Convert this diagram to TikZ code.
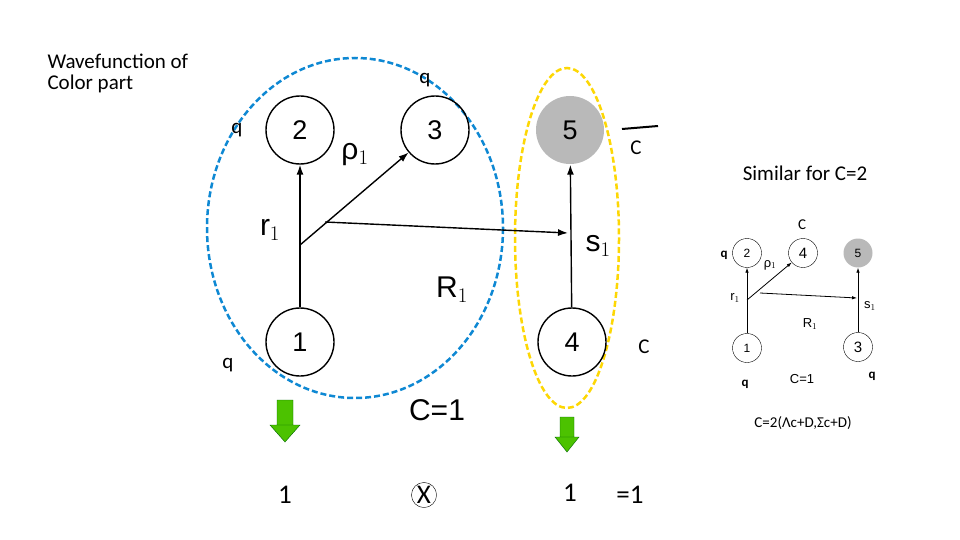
\documentclass[tikz,border=0pt]{standalone}
\usepackage{fontspec}
\setmainfont{Carlito}
\newfontfamily\arl{Liberation Sans}
\usetikzlibrary{arrows.meta}
\begin{document}
\begin{tikzpicture}[x=1pt,y=-1pt,
 bc/.style={circle,draw,line width=1.4pt,minimum size=68pt,inner sep=0,font=\arl\fontsize{27}{27}\selectfont},
 sc/.style={circle,draw,minimum size=29pt,inner sep=0,font=\arl\fontsize{12}{12}\selectfont},
 lab/.style={font=\arl\fontsize{30}{30}\selectfont},
 slab/.style={font=\arl\fontsize{13}{13}\selectfont},
 txt/.style={font=\fontsize{21}{21}\selectfont},
 ar/.style={-{Latex[length=10pt,width=7pt]},line width=1.4pt},
 sar/.style={-{Latex[length=5pt,width=3.5pt]},line width=0.8pt},
 bigd/.style={font=\fontsize{27}{27}\selectfont}]
\useasboundingbox (0,0) rectangle (960,540);
\draw[cyan!70!blue,dash pattern=on 6pt off 3pt,line width=2.5pt] (355,228) ellipse [x radius=148,y radius=170];
\draw[yellow!75!orange,dash pattern=on 6pt off 3pt,line width=2.5pt] (567,238) ellipse [x radius=52,y radius=170];
\node[bc] (n2) at (300,130) {2};
\node[bc] (n3) at (435,130) {3};
\node[bc,fill=gray!55,draw=none] (n5) at (570,130) {5};
\node[bc] (n1) at (300,342) {1};
\node[bc] (n4) at (572,342) {4};
\coordinate (sp) at (300,245);
\coordinate (hs) at (325,222);
\coordinate (he) at (568,233);
\draw[ar] (n1) -- (n2);
\draw[ar] (sp) -- (n3);
\draw[ar] (hs) -- (he);
\draw[ar] (n4) -- (n5);
\node[lab] (rho) at (355,155) {ρ$_1$};
\node[lab] (r1) at (270,230) {r$_1$};
\node[lab] (s1) at (598,246) {s$_1$};
\node[lab] (R1) at (452,290) {R$_1$};
\node[lab] (C1) at (437,410) {C=1};
\node[txt,align=left,anchor=north west] (wf) at (44,50) {Wavefunction of\\Color part};
\node[txt] (qa) at (425,80) {q};
\node[txt] (qb) at (237,130) {q};
\node[txt] (qc) at (228,365) {q};
\node[txt] (ca) at (636,148) {C};
\node[txt] (cb) at (644,347) {C};
\draw[line width=2pt] (622,129) -- (658,126);
\node[txt] (sim) at (805,173) {Similar for C=2};
\fill[green!60!black!60!lime,draw=green!40!black] (277,400) rectangle (293,425) -- (270,425) -- (285,442) -- (300,425) -- cycle;
\fill[green!60!black!60!lime,draw=green!40!black] (560,417) rectangle (574,437) -- (555,437) -- (567,452) -- (579,437) -- cycle;
\node[bigd] (o1) at (285,495) {1};
\node[draw,circle,inner sep=1pt,bigd] (x) at (424,495) {X};
\node[bigd] (o2) at (570,493) {1};
\node[bigd] (o3) at (630,495) {=1};
% small diagram
\node[sc] (m2) at (747,253) {2};
\node[sc,font=\arl\fontsize{15}{15}\selectfont] (m4) at (803,253) {4};
\node[sc,fill=gray!55,draw=none] (m5) at (858,253) {5};
\node[sc] (m1) at (747,348) {1};
\node[sc,font=\arl\fontsize{15}{15}\selectfont] (m3) at (858,347) {3};
\coordinate (msp) at (747,300);
\coordinate (mhs) at (760,293);
\coordinate (mhe) at (857,298);
\draw[sar] (m1) -- (m2);
\draw[sar] (msp) -- (m4);
\draw[sar] (mhs) -- (mhe);
\draw[sar] (m3) -- (m5);
\node[slab] (mrho) at (770,265) {ρ$_1$};
\node[slab] (mr1) at (735,298) {r$_1$};
\node[slab] (ms1) at (870,306) {s$_1$};
\node[slab] (mR1) at (810,324) {R$_1$};
\node[slab] (mC1) at (802,379) {C=1};
\node[font=\fontsize{15}{15}\selectfont] (mC) at (802,225) {C};
\node[font=\bfseries\fontsize{13}{13}\selectfont] (mq1) at (724,255) {q};
\node[font=\bfseries\fontsize{13}{13}\selectfont] (mq2) at (745,384) {q};
\node[font=\bfseries\fontsize{13}{13}\selectfont] (mq3) at (872,376) {q};
\node[font=\fontsize{15}{15}\selectfont] (mcd) at (803,423) {C=2(Λc+D,Σc+D)};
\end{tikzpicture}
\end{document}
